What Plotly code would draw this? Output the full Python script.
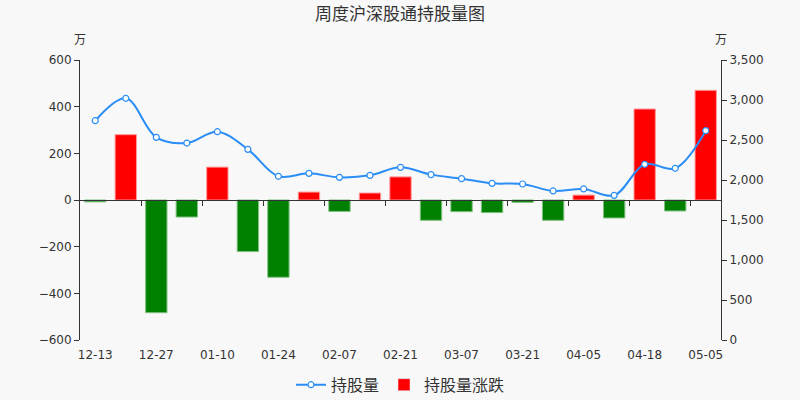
import plotly.graph_objects as go

dates = ["12-13", "12-20", "12-27", "01-03", "01-10", "01-17", "01-24", "01-31",
         "02-07", "02-14", "02-21", "02-28", "03-07", "03-14", "03-21", "03-28",
         "04-05", "04-11", "04-18", "04-25", "05-05"]
holdings = [2741, 3021, 2533, 2462, 2604, 2383, 2046, 2083, 2033, 2058, 2158,
            2067, 2017, 1958, 1950, 1863, 1888, 1808, 2196, 2146, 2617]
changes = [-8, 280, -483, -73, 141, -221, -331, 34, -49, 30, 99,
           -87, -50, -54, -10, -87, 21, -77, 390, -47, 470]
label_dates = dates[::2]

FONT = "DejaVu Sans, Noto Sans CJK SC, sans-serif"
CJK = "Noto Sans CJK SC, sans-serif"

bar_colors = ["#ff0000" if v >= 0 else "#008000" for v in changes]
bar_lines = ["#ff9a9a" if v >= 0 else "#7fc07f" for v in changes]

fig = go.Figure()
fig.add_trace(go.Bar(
    x=dates, y=changes, name="持股量涨跌", width=0.7, showlegend=False,
    marker=dict(color=bar_colors, line=dict(color=bar_lines, width=1)),
    yaxis="y", xaxis="x",
))
fig.add_trace(go.Bar(
    x=[dates[0]], y=[None], name="持股量涨跌", showlegend=True,
    marker=dict(color="#ff0000"), yaxis="y", xaxis="x", hoverinfo="skip",
))
fig.add_trace(go.Scatter(
    x=dates, y=holdings, name="持股量", mode="lines+markers",
    line=dict(color="#2a8df5", width=2, shape="spline", smoothing=1.0),
    marker=dict(size=6, color="white", line=dict(color="#2a8df5", width=1.2)),
    yaxis="y2", xaxis="x",
))
fig.add_trace(go.Scatter(x=[], y=[], xaxis="x2", yaxis="y", showlegend=False,
                         hoverinfo="skip"))

n = len(dates)
fig.update_layout(
    width=800, height=400,
    margin=dict(l=80, r=79, t=60, b=60, autoexpand=False),
    paper_bgcolor="#f8f8f8", plot_bgcolor="#f8f8f8",
    font=dict(family=FONT, size=12, color="#333"),
    title=dict(text="周度沪深股通持股量图", x=0.5, xanchor="center", y=0.965,
               yanchor="middle", font=dict(family=CJK, size=17, color="#333")),
    showlegend=True,
    legend=dict(orientation="h", x=0.5, xanchor="center", y=-0.16, yanchor="middle",
                font=dict(family=CJK, size=16, color="#333"),
                traceorder="reversed", bgcolor="rgba(0,0,0,0)"),
    barmode="overlay",
    xaxis=dict(type="category", categoryorder="array", categoryarray=dates,
               range=[-0.5, n - 0.5], automargin=False,
               tickmode="array", tickvals=label_dates, ticktext=label_dates,
               showline=False, ticks="", showgrid=False, zeroline=False,
               tickfont=dict(size=12, color="#333"), ticklabelstandoff=6),
    xaxis2=dict(overlaying="x", anchor="free", position=0.5, type="linear",
                range=[-0.5, n - 0.5], tickmode="array", automargin=False,
                tickvals=[i + 0.5 for i in range(1, n - 1, 2)],
                ticks="outside", ticklen=5, tickcolor="#333",
                showticklabels=False, showline=True, linecolor="#333",
                linewidth=1, showgrid=False, zeroline=False),
    yaxis=dict(range=[-600, 600], tickmode="array", automargin=False,
               tickvals=[-600, -400, -200, 0, 200, 400, 600],
               ticks="outside", ticklen=5, tickcolor="#333",
               showline=True, linecolor="#333", linewidth=1,
               showgrid=False, zeroline=False, tickfont=dict(size=12, color="#333")),
    yaxis2=dict(range=[0, 3500], overlaying="y", side="right", automargin=False,
                tickmode="array", tickvals=[0, 500, 1000, 1500, 2000, 2500, 3000, 3500],
                tickformat=",", ticks="outside", ticklen=5, tickcolor="#333",
                showline=True, linecolor="#333", linewidth=1,
                showgrid=False, zeroline=False, tickfont=dict(size=12, color="#333")),
    annotations=[
        dict(text="万", xref="paper", yref="paper", x=0, y=(340 - 38) / 280,
             xanchor="center", yanchor="middle", showarrow=False,
             font=dict(family=CJK, size=12, color="#333")),
        dict(text="万", xref="paper", yref="paper", x=1, y=(340 - 38) / 280,
             xanchor="center", yanchor="middle", showarrow=False,
             font=dict(family=CJK, size=12, color="#333")),
    ],
)

fig.write_html("out.html",
               config={"displayModeBar": False},
               post_script="document.body.style.margin='0px';"
                           "document.body.style.overflow='hidden';")
